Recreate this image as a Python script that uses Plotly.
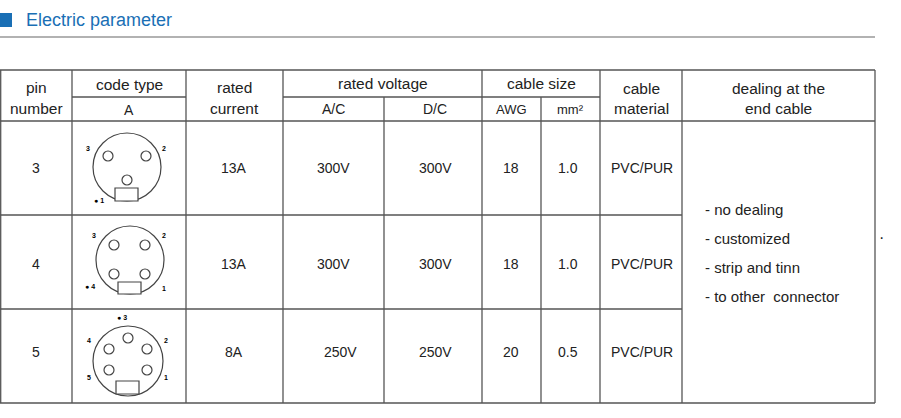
import plotly.graph_objects as go

pins = ["3", "4", "5"]
current = ["13A", "13A", "8A"]
volt_ac = ["300V", "300V", "250V"]
volt_dc = ["300V", "300V", "250V"]
awg = ["18", "18", "20"]
mm2 = ["1.0", "1.0", "0.5"]
material = ["PVC/PUR", "PVC/PUR", "PVC/PUR"]
dealing = ["- no dealing", "- customized", "- strip and tinn", "- to other  connector"]

W, H = 901, 418
VX = [0.7, 72, 186, 283, 384, 482, 541, 600, 682, 875]
FULL_VX = [0.7, 72, 186, 283, 482, 600, 682, 875]
Y_TOP, Y_MID, Y_HEAD, Y_BOT = 70, 97, 121, 403
ROW_Y = [121, 215, 309, 403]
TEXT_Y = [168, 264, 352]
COL_X = {"pin": 36, "cur": 234, "ac": 333, "dc": 435, "awg": 511, "mm": 568, "mat": 642}
LC = "#555555"
FONT = "Liberation Sans, Arial, sans-serif"

shapes = []
def line(x0, y0, x1, y1, w=1.3, c=LC):
    shapes.append(dict(type="line", x0=x0, y0=y0, x1=x1, y1=y1, xref="x", yref="y",
                       line=dict(color=c, width=w)))

shapes.append(dict(type="rect", x0=0, x1=12, y0=13, y1=27, xref="x", yref="y",
                   fillcolor="#1a6fb5", line=dict(width=0)))
line(0, 37, 875, 37, 1.2, "#666")

for y in [Y_TOP, Y_HEAD, ROW_Y[1], ROW_Y[2], Y_BOT]:
    x1 = VX[-1]
    if y in (ROW_Y[1], ROW_Y[2]):
        x1 = VX[8]
    line(0, y, x1, y)
for x in FULL_VX:
    line(x, Y_TOP, x, Y_BOT)
line(VX[1], Y_MID, VX[2], Y_MID)
line(VX[3], Y_MID, VX[7], Y_MID)
line(VX[4], Y_MID, VX[4], Y_BOT)
line(VX[6], Y_MID, VX[6], Y_BOT)

ann = []
def txt(x, y, s, size=14, color="#222", xanchor="center"):
    ann.append(dict(x=x, y=y, text=s, showarrow=False, xref="x", yref="y",
                    xanchor=xanchor, yanchor="middle",
                    font=dict(family=FONT, size=size, color=color)))

txt(24, 20, "Electric parameter", 18, "#1a6fb5", "left")

hs = 15.5
txt(36, 87, "pin", hs); txt(36, 108, "number", hs)
txt(129, 84, "code type", hs); txt(129, 110, "A", 14)
txt(234, 87, "rated", hs); txt(234, 108, "current", hs)
txt(383, 83, "rated voltage", hs)
txt(333, 109, "A/C", 14); txt(435, 109, "D/C", 14)
txt(541, 83, "cable size", hs)
txt(511, 109, "AWG", 13); txt(570, 109, "mm²", 13)
txt(641, 88, "cable", hs); txt(641, 108, "material", hs)
txt(778, 88, "dealing at the", hs); txt(778, 108, "end cable", hs)

for i in range(3):
    y = TEXT_Y[i]
    txt(COL_X["pin"], y, pins[i])
    txt(COL_X["cur"], y, current[i])
    txt(COL_X["ac"] + (7 if i == 2 else 0), y, volt_ac[i])
    txt(COL_X["dc"], y, volt_dc[i])
    txt(COL_X["awg"], y, awg[i])
    txt(COL_X["mm"], y, mm2[i])
    txt(COL_X["mat"], y, material[i])
for k, s in enumerate(dealing):
    txt(703, 209 + k * 29, s, 15, xanchor="left")
txt(881, 237, "·", 16)

def circ(cx, cy, r, w=1.2):
    shapes.append(dict(type="circle", x0=cx - r, x1=cx + r, y0=cy - r, y1=cy + r,
                       xref="x", yref="y", line=dict(color="#444", width=w)))
def key(x0, x1, y0, y1):
    shapes.append(dict(type="rect", x0=x0, x1=x1, y0=y0, y1=y1, xref="x", yref="y",
                       fillcolor="white", line=dict(color="#444", width=1.2)))
def lab(x, y, s):
    txt(x, y, "<b>" + s + "</b>", 7, "#000")

conn = [
    dict(c=(127, 167, 34), p=[(108, 156), (146, 156), (127, 180)], k=(115, 138, 188, 201),
         l=[(88, 148, "3"), (164, 148, "2"), (99, 200, "● 1")]),
    dict(c=(130, 260, 34), p=[(114, 245), (145, 245), (114, 274), (145, 274)], k=(118, 141, 282, 294),
         l=[(94, 235, "3"), (164, 235, "2"), (90, 286, "● 4"), (164, 288, "1")]),
    dict(c=(128, 361, 35), p=[(128, 338), (109, 349), (147, 349), (109, 370), (147, 370)], k=(116, 139, 381, 394),
         l=[(122, 317, "● 3"), (89, 340, "4"), (166, 340, "2"), (89, 377, "5"), (166, 377, "1")]),
]
for c in conn:
    circ(*c["c"])
    for (px, py) in c["p"]:
        circ(px, py, 5)
    key(*c["k"])
    for (lx, ly, s) in c["l"]:
        lab(lx, ly, s)

fig = go.Figure()
fig.update_layout(
    width=W, height=H, margin=dict(l=0, r=0, t=0, b=0),
    paper_bgcolor="white", plot_bgcolor="white",
    xaxis=dict(range=[0, W], visible=False, fixedrange=True),
    yaxis=dict(range=[H, 0], visible=False, fixedrange=True),
    shapes=shapes, annotations=ann, showlegend=False,
)
fig.write_html("out.html", config={"displayModeBar": False},
               post_script="document.body.style.margin='0';document.body.style.overflow='hidden';")
